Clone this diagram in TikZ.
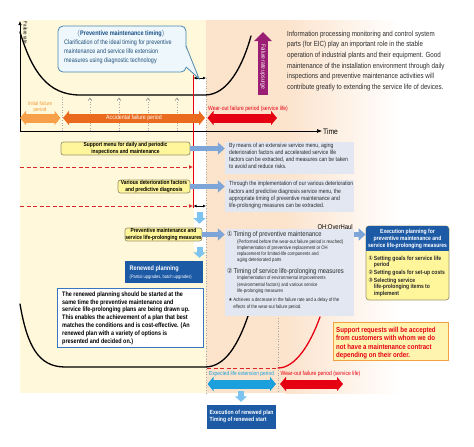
\documentclass[tikz,border=0pt]{standalone}
\usepackage{fontspec}
\setmainfont{Liberation Sans}[FakeStretch=0.84]
\newfontfamily\symf{DejaVu Sans}[FakeStretch=0.84]
\usetikzlibrary{arrows.meta}
\newcommand{\fsz}[2]{\fontsize{#1}{#2}\selectfont}
\definecolor{cream}{HTML}{FFF8DA}
\definecolor{peach}{HTML}{FCE3CC}
\definecolor{orgL}{HTML}{F6A04A}
\definecolor{orgT}{HTML}{F29A3A}
\definecolor{orgD}{HTML}{EA6A1E}
\definecolor{redA}{HTML}{E50012}
\definecolor{rdc}{HTML}{D9262B}
\definecolor{purp}{HTML}{9A1E73}
\definecolor{arrB}{HTML}{7DA5D8}
\definecolor{arrL}{HTML}{7CC4EF}
\definecolor{navy}{HTML}{1D5AA6}
\definecolor{tbox}{HTML}{E2E7F2}
\definecolor{ybox}{HTML}{FFF59A}
\definecolor{ybord}{HTML}{9A9670}
\definecolor{cfill}{HTML}{EEF7FB}
\definecolor{cbord}{HTML}{4A86B0}
\definecolor{ctext}{HTML}{1F4E7A}
\definecolor{ctitle}{HTML}{1A4F86}
\definecolor{lblue}{HTML}{1BA0DD}
\definecolor{supfill}{HTML}{FFF3B0}
\definecolor{supbord}{HTML}{F2A040}
\definecolor{wbord}{HTML}{3A75BF}
\definecolor{txtc}{HTML}{2A2A2A}
\begin{document}
\begin{tikzpicture}[x=1pt,y=-1pt,
  curve/.style={line width=1.3pt, line cap=round},
  ybx/.style={draw=ybord, fill=ybox, rounded corners=2.5pt, line width=0.7pt, inner sep=0pt, align=center, font=\bfseries\fsz{5.8}{6.3}},
  tbx/.style={fill=tbox, inner sep=0pt},
  nbx/.style={fill=navy, inner sep=0pt},
  txt/.style={inner sep=0pt, align=left, text=txtc},
  barr/.style={draw=arrB, line width=5pt, -{Triangle[width=12pt,length=7pt]}},
  darr/.style={draw=arrL, line width=6pt, -{Triangle[width=12pt,length=5.5pt]}},
  parr/.style={line width=9pt, {Triangle[width=14pt,length=6pt]}-{Triangle[width=14pt,length=6pt]}},
  rdash/.style={draw=rdc, line width=1pt, dash pattern=on 4pt off 2.5pt},
  tick/.style={draw=gray!70, line width=0.6pt, dotted},
  dbl/.style={line width=0.8pt, {Latex[length=3pt,width=3pt]}-{Latex[length=3pt,width=3pt]}}]
\useasboundingbox (0,0) rectangle (474,447);
% backgrounds
\fill[cream] (20,20) rectangle (206,393);
\fill[peach] (206,20) rectangle (285,393);
\shade[left color=peach, right color=white] (285,20) rectangle (400,393);
\fill[white] (193.5,78) rectangle (206,250);
% ticks
\draw[tick] (62,131) -- (62,97);
\foreach \x in {90,119,148,177} {
  \draw[tick] (\x,131) -- (\x,99);
  \draw[gray!80, line width=0.6pt] (\x-2,100.8) -- (\x,98) -- (\x+2,100.8);
}
\draw[tick] (206,78) -- (206,393);
\draw[tick] (278,318) -- (278,392);
% curves
\draw[curve] (20,32) .. controls (32,72) and (48,95) .. (80,95) -- (205,95) .. controls (228,95) and (243,65) .. (251,36);
\draw[curve] (20,304) .. controls (27,345) and (38,367) .. (65,367) -- (205,367) .. controls (225,367) and (238,345) .. (248,316);
\draw[curve, redA] (278,368) .. controls (295,368) and (310,345) .. (320,317);
% axes
\coordinate (O) at (20,131);
\coordinate (Ytop) at (20,21);
\coordinate (Xend) at (322,131);
\draw[line width=0.6pt, -{Latex[length=4pt,width=3.5pt]}] (O) -- (Ytop);
\draw[line width=0.6pt, -{Latex[length=5pt,width=4pt]}] (O) -- (Xend);
\node[anchor=west, inner sep=0, font=\fsz{8}{8}] (time) at (323,131.5) {Time};
\node[rotate=-90, inner sep=0, font=\fsz{5.2}{5.2}] (frate) at (25.5,33) {Failure rate};
% red vertical and small double arrows
\draw[redA, line width=1pt] (193.5,75) -- (193.5,208);
\coordinate (da1l) at (193.5,78); \coordinate (da1r) at (206,78);
\draw[dbl] (da1l) -- (da1r);
\coordinate (da2l) at (193.5,206); \coordinate (da2r) at (206,206);
% period arrows
\coordinate (ip1) at (20,118); \coordinate (ip2) at (60.5,118);
\coordinate (ac1) at (63,118); \coordinate (ac2) at (205,118);
\coordinate (wo1) at (207.5,118); \coordinate (wo2) at (277,118);
\draw[parr, draw=orgL] (ip1) -- (ip2);
\draw[parr, draw=orgD] (ac1) -- node[text=white, font=\fsz{6.2}{6.2}, inner sep=0] (acc) {Accidental failure period} (ac2);
\draw[parr, draw=redA] (wo1) -- (wo2);
\node[anchor=north, align=center, text=orgT, font=\fsz{5.4}{6}, inner sep=0] (ifp) at (40,101) {Initial failure\\period};
\node[anchor=base west, text=redA, font=\fsz{6}{6}, inner sep=0] (wop) at (208,110) {Wear-out failure period (service life)};
% purple upsurge arrow
\coordinate (pu1) at (263,95); \coordinate (pu2) at (263,32);
\draw[draw=purp, line width=10pt, -{Triangle[width=17pt,length=9pt]}] (pu1) -- node[pos=0.45, rotate=-90, text=white, font=\fsz{6}{6}, inner sep=0] (fru) {Failure rate upsurge} (pu2);
% paragraph
\node[txt, anchor=north west, font=\fsz{7.4}{10.6}] (para) at (287,30.8) {Information processing monitoring and control system\\parts (for EIC) play an important role in the stable\\operation of industrial plants and their equipment. Good\\maintenance of the installation environment through daily\\inspections and preventive maintenance activities will\\contribute greatly to extending the service life of devices.};
% callout
\filldraw[draw=cbord, fill=cfill, line width=0.8pt, rounded corners=5pt] (58,26) rectangle (186,72);
\fill[cfill] (185,46) -- (199,78.5) -- (185,67) -- cycle;
\draw[cbord, line width=0.8pt] (186,46) -- (199,78.5) -- (186,67);
\node[font=\bfseries\fsz{6.6}{7}, text=ctitle, inner sep=0] (cot) at (121,34) {$\langle$Preventive maintenance timing$\rangle$};
\node[txt, anchor=north west, text=ctext, font=\fsz{6.5}{9}] (cob) at (64,39.4) {Clarification of the ideal timing for preventive\\maintenance and service life extension\\measures using diagnostic technology};
% middle section
\node[ybx, minimum width=129pt, minimum height=13pt] (sm) at (125.5,148.5) {Support menu for daily and periodic\\inspections and maintenance};
\node[tbx, minimum width=129pt, minimum height=32pt] (tb1) at (289.5,158) {};
\node[txt, anchor=north west, font=\fsz{6}{7.1}] (tb1t) at (229,142.6) {By means of an extensive service menu, aging\\deterioration factors and accelerated service life\\factors can be extracted, and measures can be taken\\to avoid and reduce risks.};
\draw[barr] (sm.east) -- (sm.east -| tb1.west);
\coordinate (rd1a) at (20,167); \coordinate (rd1b) at (193,167);
\draw[rdash, -{Latex[length=4pt,width=4pt]}] (rd1a) -- (rd1b);
\node[ybx, minimum width=72pt, minimum height=13pt] (vd) at (154,186.5) {Various deterioration factors\\and predictive diagnosis};
\node[tbx, minimum width=129pt, minimum height=32pt] (tb2) at (289.5,196) {};
\node[txt, anchor=north west, font=\fsz{6}{7.3}] (tb2t) at (229,181.3) {Through the implementation of our various deterioration\\factors and predictive diagnosis service menu, the\\appropriate timing of preventive maintenance and\\life-prolonging measures can be extracted.};
\draw[barr] (vd.east) -- (vd.east -| tb2.west);
\coordinate (rd2a) at (20,206); \coordinate (rd2b) at (193,206);
\draw[rdash, -{Latex[length=4pt,width=4pt]}] (rd2a) -- (rd2b);
\draw[dbl] (da2l) -- (da2r);
% preventive maintenance
\coordinate (d1a) at (199.5,212);
\node[ybx, minimum width=77pt, minimum height=13pt] (pm) at (163.5,234.5) {Preventive maintenance and\\service life-prolonging measures};
\draw[darr, shorten >=4pt] (d1a) -- (d1a |- pm.north);
\node[anchor=base east, font=\fsz{7}{7}, inner sep=0] (oh) at (353,229.5) {OH:OverHaul};
\node[tbx, minimum width=129pt, minimum height=87pt] (tb3) at (289.5,272.5) {};
\node[anchor=base west, inner sep=0, text=txtc, font=\fsz{7}{7}] (h1) at (227,236.5) {{\symf ①}\,Timing of preventive maintenance};
\node[txt, anchor=north west, font=\fsz{5}{6.1}] (s1) at (237,239.3) {(Performed before the wear-out failure period is reached)\\Implementation of preventive replacement or OH\\replacement for limited-life components and\\aging deteriorated parts};
\node[anchor=base west, inner sep=0, text=txtc, font=\fsz{7}{7}] (h2) at (227,273.5) {{\symf ②}\,Timing of service life-prolonging measures};
\node[txt, anchor=north west, font=\fsz{5}{6.5}] (s2) at (237,275.8) {Implementation of environmental improvements\\(environmental factors) and various service\\life-prolonging measures};
\node[txt, anchor=north west, font=\fsz{5}{6.4}] (s3) at (228.5,297) {\begin{tabular}{@{}l@{\,}l@{}}{\symf ★}&Achieves a decrease in the failure rate and a delay of the\\&effects of the wear-out failure period.\end{tabular}};
\draw[barr] (pm.east) -- (pm.east -| tb3.west);
% execution planning
\node[draw=ybord, fill=ybox, line width=0.7pt, rounded corners=3pt, minimum width=83pt, minimum height=74pt, inner sep=0] (exbox) at (407.5,263) {};
\begin{scope}
\clip[rounded corners=3pt] (366,226) rectangle (449,300);
\fill[navy] (366,225) rectangle (449,251);
\end{scope}
\node[text=white, align=center, font=\bfseries\fsz{6}{7.2}, inner sep=0] (ext) at (407.5,239) {Execution planning for\\preventive maintenance and\\service life-prolonging measures};
\node[anchor=north west, inner sep=0, text=txtc, font=\bfseries\fsz{6}{6.3}] (exi) at (368.5,255.5) {\begin{tabular}{@{}l@{\,}l@{}}{\symf ①}&Setting goals for service life\\&period\\[1.8pt]{\symf ②}&Setting goals for set-up costs\\[1.8pt]{\symf ③}&Selecting service\\&life-prolonging items to\\&implement\end{tabular}};
\draw[barr] (pm.east -| tb3.east) -- (pm.east -| exbox.west);
% renewed planning
\node[nbx, minimum width=78pt, minimum height=22pt] (rp) at (164,272) {};
\draw[darr, shorten <=6pt, shorten >=3pt] (pm.south -| d1a) -- (rp.north -| d1a);
\node[anchor=base west, text=white, font=\bfseries\fsz{6.6}{6.6}, inner sep=0] (rpt) at (129.5,270.5) {Renewed planning};
\node[anchor=base west, text=white, font=\fsz{4.8}{4.8}, inner sep=0] (rps) at (129.5,278) {(Partial upgrades, batch upgrades)};
\node[draw=wbord, fill=white, line width=1pt, minimum width=146pt, minimum height=59pt, inner sep=0] (wb) at (130,317.5) {};
\node[txt, anchor=north west, text=black, font=\bfseries\fsz{6.5}{7.8}] (wbt) at (62,291.3) {The renewed planning should be started at the\\same time the preventive maintenance and\\service life-prolonging plans are being drawn up.\\This enables the achievement of a plan that best\\matches the conditions and is cost-effective. (An\\renewed plan with a variety of options is\\presented and decided on.)};
% support box
\node[draw=supbord, fill=supfill, line width=1pt, minimum width=115pt, minimum height=38pt, inner sep=0] (sup) at (390.5,341) {};
\node[txt, anchor=north west, text=redA, font=\bfseries\fsz{7.3}{8.3}] (supt) at (336,327.2) {Support requests will be accepted\\from customers with whom we do\\not have a maintenance contract\\depending on their order.};
% bottom periods
\coordinate (bd1) at (207,368); \coordinate (bd2) at (277,368);
\draw[rdash] (bd1) -- (bd2);
\node[anchor=base, text=lblue, font=\fsz{5.8}{5.8}, inner sep=0] (elx) at (241.5,375.5) {Expected life extension period};
\coordinate (el1) at (207.5,384); \coordinate (el2) at (276,384);
\draw[parr, draw=lblue] (el1) -- (el2);
\node[anchor=base west, text=redA, font=\fsz{6}{6}, inner sep=0] (wob) at (280.5,375.5) {Wear-out failure period (service life)};
\coordinate (wb1) at (280,384); \coordinate (wb2) at (343,384);
\draw[parr, draw=redA] (wb1) -- (wb2);
\coordinate (d3a) at (241,391);
\node[nbx, minimum width=69pt, minimum height=24pt] (er) at (241.5,417) {};
\draw[darr, shorten >=3pt] (d3a) -- (d3a |- er.north);
\node[txt, anchor=north west, text=white, font=\bfseries\fsz{6}{7.3}] (ert) at (209.5,410) {Execution of renewed plan\\Timing of renewed start};
\end{tikzpicture}
\end{document}
